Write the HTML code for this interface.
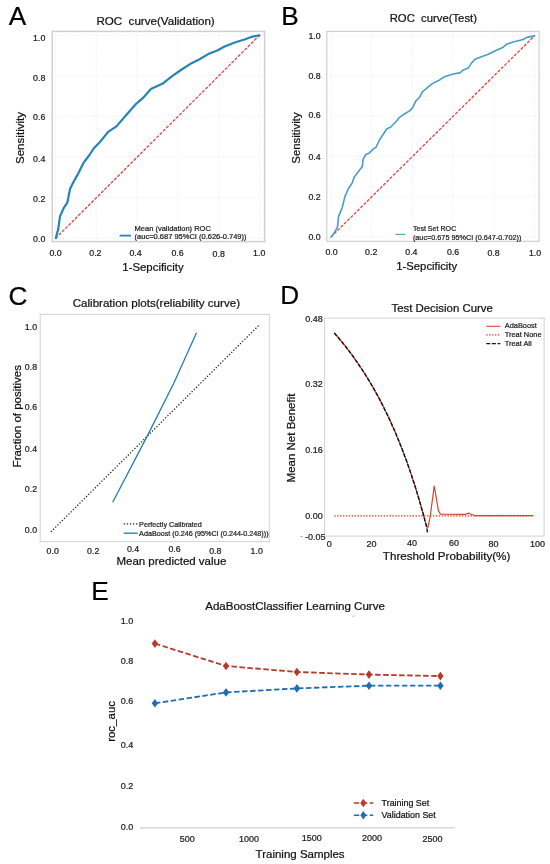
<!DOCTYPE html>
<html lang="en"><head><meta charset="utf-8"><title>Model evaluation figure</title>
<style>
html,body{margin:0;padding:0;background:#fff;}
body{width:550px;height:864px;overflow:hidden;}
svg{display:block;font-family:"Liberation Sans", Arial, Helvetica, sans-serif;}
</style></head><body>
<svg width="550" height="864" viewBox="0 0 550 864">
<rect width="550" height="864" fill="#ffffff"/>
<rect x="52.3" y="31.4" width="212.3" height="210.2" fill="#fff" stroke="#cfcfcf" stroke-width="1.5"/>
<line x1="55.5" y1="31.4" x2="55.5" y2="241.6" stroke="#f0f0f0" stroke-width="0.8" stroke-dasharray="2 1.2"/>
<line x1="52.3" y1="238.4" x2="264.6" y2="238.4" stroke="#f0f0f0" stroke-width="0.8" stroke-dasharray="2 1.2"/>
<line x1="96.3" y1="31.4" x2="96.3" y2="241.6" stroke="#f0f0f0" stroke-width="0.8" stroke-dasharray="2 1.2"/>
<line x1="52.3" y1="197.7" x2="264.6" y2="197.7" stroke="#f0f0f0" stroke-width="0.8" stroke-dasharray="2 1.2"/>
<line x1="137.2" y1="31.4" x2="137.2" y2="241.6" stroke="#f0f0f0" stroke-width="0.8" stroke-dasharray="2 1.2"/>
<line x1="52.3" y1="157.1" x2="264.6" y2="157.1" stroke="#f0f0f0" stroke-width="0.8" stroke-dasharray="2 1.2"/>
<line x1="178.0" y1="31.4" x2="178.0" y2="241.6" stroke="#f0f0f0" stroke-width="0.8" stroke-dasharray="2 1.2"/>
<line x1="52.3" y1="116.4" x2="264.6" y2="116.4" stroke="#f0f0f0" stroke-width="0.8" stroke-dasharray="2 1.2"/>
<line x1="218.9" y1="31.4" x2="218.9" y2="241.6" stroke="#f0f0f0" stroke-width="0.8" stroke-dasharray="2 1.2"/>
<line x1="52.3" y1="75.8" x2="264.6" y2="75.8" stroke="#f0f0f0" stroke-width="0.8" stroke-dasharray="2 1.2"/>
<line x1="259.7" y1="31.4" x2="259.7" y2="241.6" stroke="#f0f0f0" stroke-width="0.8" stroke-dasharray="2 1.2"/>
<line x1="52.3" y1="35.1" x2="264.6" y2="35.1" stroke="#f0f0f0" stroke-width="0.8" stroke-dasharray="2 1.2"/>
<line x1="55.5" y1="238.4" x2="259.7" y2="35.1" stroke="#d9473f" stroke-width="1.3" stroke-dasharray="3.1 1.5"/>
<path d="M55.8,238.2 L58.2,229.1 L60.0,216.4 L63.6,208.2 L67.3,202.7 L70.0,189.1 L73.6,181.8 L78.2,173.6 L83.6,162.7 L89.1,155.5 L93.6,148.6 L100.9,140.9 L108.2,131.8 L116.4,126.4 L128.2,112.7 L136.4,103.6 L143.6,97.3 L150.9,89.1 L162.7,83.6 L171.8,76.4 L180.9,70.0 L190.0,64.1 L199.1,59.5 L208.2,54.1 L217.3,50.5 L224.5,46.5 L235.5,42.3 L244.5,39.5 L251.8,36.8 L259.4,35.3" fill="none" stroke="#2585b5" stroke-width="2.2" stroke-linejoin="round" stroke-linecap="round"/>
<text x="8.8" y="25.4" font-size="26.2" text-anchor="start" fill="#000" stroke="#000" stroke-width="0.22" >A</text>
<text x="96.4" y="24.6" font-size="11.6" text-anchor="start" fill="#111" stroke="#111" stroke-width="0.22" xml:space="preserve">ROC  curve(Validation)</text>
<text x="45.3" y="41.0" font-size="8.8" text-anchor="end" fill="#1a1a1a" stroke="#1a1a1a" stroke-width="0.22" >1.0</text>
<text x="45.3" y="80.8" font-size="8.8" text-anchor="end" fill="#1a1a1a" stroke="#1a1a1a" stroke-width="0.22" >0.8</text>
<text x="45.3" y="120.3" font-size="8.8" text-anchor="end" fill="#1a1a1a" stroke="#1a1a1a" stroke-width="0.22" >0.6</text>
<text x="45.3" y="161.8" font-size="8.8" text-anchor="end" fill="#1a1a1a" stroke="#1a1a1a" stroke-width="0.22" >0.4</text>
<text x="45.3" y="202.2" font-size="8.8" text-anchor="end" fill="#1a1a1a" stroke="#1a1a1a" stroke-width="0.22" >0.2</text>
<text x="45.3" y="242.3" font-size="8.8" text-anchor="end" fill="#1a1a1a" stroke="#1a1a1a" stroke-width="0.22" >0.0</text>
<text x="55.5" y="256.3" font-size="8.8" text-anchor="middle" fill="#1a1a1a" stroke="#1a1a1a" stroke-width="0.22" >0.0</text>
<text x="95.4" y="256.3" font-size="8.8" text-anchor="middle" fill="#1a1a1a" stroke="#1a1a1a" stroke-width="0.22" >0.2</text>
<text x="135.5" y="255.7" font-size="8.8" text-anchor="middle" fill="#1a1a1a" stroke="#1a1a1a" stroke-width="0.22" >0.4</text>
<text x="177.6" y="256.0" font-size="8.8" text-anchor="middle" fill="#1a1a1a" stroke="#1a1a1a" stroke-width="0.22" >0.6</text>
<text x="218.7" y="256.9" font-size="8.8" text-anchor="middle" fill="#1a1a1a" stroke="#1a1a1a" stroke-width="0.22" >0.8</text>
<text x="259.2" y="256.3" font-size="8.8" text-anchor="middle" fill="#1a1a1a" stroke="#1a1a1a" stroke-width="0.22" >1.0</text>
<text x="153.0" y="270.5" font-size="11.4" text-anchor="middle" fill="#111" stroke="#111" stroke-width="0.22" >1-Sepcificity</text>
<text transform="translate(23.7,138.0) rotate(-90)" font-size="11.6" text-anchor="middle" fill="#111" stroke="#111" stroke-width="0.22">Sensitivity</text>
<line x1="119.6" y1="235.6" x2="131" y2="235.6" stroke="#2585b5" stroke-width="1.8"/>
<text x="134.6" y="230.5" font-size="7.5" text-anchor="start" fill="#222" stroke="#222" stroke-width="0.22" >Mean (validation) ROC</text>
<text x="134.6" y="239.2" font-size="7.5" text-anchor="start" fill="#222" stroke="#222" stroke-width="0.22" >(auc=0.687 95%CI (0.626-0.749))</text>
<rect x="326.8" y="31.4" width="212.3" height="209.9" fill="#fff" stroke="#cfcfcf" stroke-width="1.2"/>
<line x1="331.0" y1="31.4" x2="331.0" y2="241.3" stroke="#f0f0f0" stroke-width="0.8" stroke-dasharray="2 1.2"/>
<line x1="326.8" y1="237.0" x2="539.1" y2="237.0" stroke="#f0f0f0" stroke-width="0.8" stroke-dasharray="2 1.2"/>
<line x1="371.7" y1="31.4" x2="371.7" y2="241.3" stroke="#f0f0f0" stroke-width="0.8" stroke-dasharray="2 1.2"/>
<line x1="326.8" y1="196.7" x2="539.1" y2="196.7" stroke="#f0f0f0" stroke-width="0.8" stroke-dasharray="2 1.2"/>
<line x1="412.5" y1="31.4" x2="412.5" y2="241.3" stroke="#f0f0f0" stroke-width="0.8" stroke-dasharray="2 1.2"/>
<line x1="326.8" y1="156.4" x2="539.1" y2="156.4" stroke="#f0f0f0" stroke-width="0.8" stroke-dasharray="2 1.2"/>
<line x1="453.2" y1="31.4" x2="453.2" y2="241.3" stroke="#f0f0f0" stroke-width="0.8" stroke-dasharray="2 1.2"/>
<line x1="326.8" y1="116.2" x2="539.1" y2="116.2" stroke="#f0f0f0" stroke-width="0.8" stroke-dasharray="2 1.2"/>
<line x1="494.0" y1="31.4" x2="494.0" y2="241.3" stroke="#f0f0f0" stroke-width="0.8" stroke-dasharray="2 1.2"/>
<line x1="326.8" y1="75.9" x2="539.1" y2="75.9" stroke="#f0f0f0" stroke-width="0.8" stroke-dasharray="2 1.2"/>
<line x1="534.7" y1="31.4" x2="534.7" y2="241.3" stroke="#f0f0f0" stroke-width="0.8" stroke-dasharray="2 1.2"/>
<line x1="326.8" y1="35.6" x2="539.1" y2="35.6" stroke="#f0f0f0" stroke-width="0.8" stroke-dasharray="2 1.2"/>
<line x1="331" y1="237" x2="534.7" y2="35.6" stroke="#d9473f" stroke-width="1.3" stroke-dasharray="3.1 1.5"/>
<path d="M331.0,237.0 L333.2,234.5 L337.4,227.3 L338.6,216.4 L342.3,207.3 L345.0,196.4 L348.6,188.2 L352.3,182.7 L354.1,177.3 L362.3,166.4 L363.2,159.1 L365.9,154.5 L368.6,153.6 L373.2,149.1 L375.9,147.3 L379.5,140.0 L386.8,128.7 L390.5,127.3 L395.9,121.8 L399.5,117.3 L404.1,114.2 L409.5,110.9 L412.3,108.2 L415.9,100.9 L419.5,97.3 L422.3,91.8 L426.8,88.2 L432.3,83.6 L439.5,80.0 L445.0,76.4 L452.3,74.3 L460.5,72.6 L462.3,70.5 L468.6,67.7 L471.4,63.2 L475.0,59.2 L481.4,56.8 L487.7,54.5 L495.9,50.5 L503.2,47.2 L506.8,44.1 L514.1,41.7 L523.2,39.5 L526.8,37.4 L534.5,35.9" fill="none" stroke="#4a9cc4" stroke-width="1.6" stroke-linejoin="round" stroke-linecap="round"/>
<text x="281.2" y="25.4" font-size="26.2" text-anchor="start" fill="#000" stroke="#000" stroke-width="0.22" >B</text>
<text x="389.7" y="22.4" font-size="11.3" text-anchor="start" fill="#111" stroke="#111" stroke-width="0.22" xml:space="preserve">ROC  curve(Test)</text>
<text x="320.7" y="38.8" font-size="8.8" text-anchor="end" fill="#1a1a1a" stroke="#1a1a1a" stroke-width="0.22" >1.0</text>
<text x="320.7" y="78.9" font-size="8.8" text-anchor="end" fill="#1a1a1a" stroke="#1a1a1a" stroke-width="0.22" >0.8</text>
<text x="320.7" y="118.4" font-size="8.8" text-anchor="end" fill="#1a1a1a" stroke="#1a1a1a" stroke-width="0.22" >0.6</text>
<text x="320.7" y="159.9" font-size="8.8" text-anchor="end" fill="#1a1a1a" stroke="#1a1a1a" stroke-width="0.22" >0.4</text>
<text x="320.7" y="200.4" font-size="8.8" text-anchor="end" fill="#1a1a1a" stroke="#1a1a1a" stroke-width="0.22" >0.2</text>
<text x="320.7" y="240.3" font-size="8.8" text-anchor="end" fill="#1a1a1a" stroke="#1a1a1a" stroke-width="0.22" >0.0</text>
<text x="331.5" y="255.1" font-size="8.8" text-anchor="middle" fill="#1a1a1a" stroke="#1a1a1a" stroke-width="0.22" >0.0</text>
<text x="371.2" y="255.1" font-size="8.8" text-anchor="middle" fill="#1a1a1a" stroke="#1a1a1a" stroke-width="0.22" >0.2</text>
<text x="411.4" y="255.3" font-size="8.8" text-anchor="middle" fill="#1a1a1a" stroke="#1a1a1a" stroke-width="0.22" >0.4</text>
<text x="453.1" y="255.3" font-size="8.8" text-anchor="middle" fill="#1a1a1a" stroke="#1a1a1a" stroke-width="0.22" >0.6</text>
<text x="493.6" y="256.2" font-size="8.8" text-anchor="middle" fill="#1a1a1a" stroke="#1a1a1a" stroke-width="0.22" >0.8</text>
<text x="535.0" y="255.6" font-size="8.8" text-anchor="middle" fill="#1a1a1a" stroke="#1a1a1a" stroke-width="0.22" >1.0</text>
<text x="426.7" y="270.4" font-size="11.3" text-anchor="middle" fill="#111" stroke="#111" stroke-width="0.22" >1-Sepcificity</text>
<text transform="translate(299.9,138.0) rotate(-90)" font-size="11.45" text-anchor="middle" fill="#111" stroke="#111" stroke-width="0.22">Sensitivity</text>
<line x1="395.5" y1="234.4" x2="405.4" y2="234.4" stroke="#4a9cc4" stroke-width="1.1"/>
<text x="412.9" y="230.5" font-size="7.1" text-anchor="start" fill="#222" stroke="#222" stroke-width="0.22" >Test Set ROC</text>
<text x="412.9" y="239.5" font-size="7.28" text-anchor="start" fill="#222" stroke="#222" stroke-width="0.22" >(auc=0.675 95%CI (0.647-0.702))</text>
<rect x="40.2" y="314.4" width="229.1" height="227.2" fill="#fff" stroke="#d2d2d2" stroke-width="1"/>
<line x1="50.9" y1="531.9" x2="258.9" y2="325.3" stroke="#222" stroke-width="1.25" stroke-dasharray="1.3 1.8"/>
<path d="M112.7,502.2 L148.6,433.4 L174.1,382.5 L196.5,332.7" fill="none" stroke="#2178ae" stroke-width="1.25" stroke-linejoin="round"/>
<text x="8.6" y="304.6" font-size="26.2" text-anchor="start" fill="#000" stroke="#000" stroke-width="0.22" >C</text>
<text x="72.7" y="307.1" font-size="11.58" text-anchor="start" fill="#111" stroke="#111" stroke-width="0.22" >Calibration plots(reliability curve)</text>
<text x="37.1" y="330.2" font-size="8.8" text-anchor="end" fill="#1a1a1a" stroke="#1a1a1a" stroke-width="0.22" >1.0</text>
<text x="37.1" y="370.3" font-size="8.8" text-anchor="end" fill="#1a1a1a" stroke="#1a1a1a" stroke-width="0.22" >0.8</text>
<text x="37.1" y="410.3" font-size="8.8" text-anchor="end" fill="#1a1a1a" stroke="#1a1a1a" stroke-width="0.22" >0.6</text>
<text x="37.1" y="451.5" font-size="8.8" text-anchor="end" fill="#1a1a1a" stroke="#1a1a1a" stroke-width="0.22" >0.4</text>
<text x="37.1" y="492.2" font-size="8.8" text-anchor="end" fill="#1a1a1a" stroke="#1a1a1a" stroke-width="0.22" >0.2</text>
<text x="37.1" y="532.5" font-size="8.8" text-anchor="end" fill="#1a1a1a" stroke="#1a1a1a" stroke-width="0.22" >0.0</text>
<text x="52.7" y="553.9" font-size="8.8" text-anchor="middle" fill="#1a1a1a" stroke="#1a1a1a" stroke-width="0.22" >0.0</text>
<text x="93.2" y="553.9" font-size="8.8" text-anchor="middle" fill="#1a1a1a" stroke="#1a1a1a" stroke-width="0.22" >0.2</text>
<text x="133.0" y="552.4" font-size="8.8" text-anchor="middle" fill="#1a1a1a" stroke="#1a1a1a" stroke-width="0.22" >0.4</text>
<text x="174.6" y="552.4" font-size="8.8" text-anchor="middle" fill="#1a1a1a" stroke="#1a1a1a" stroke-width="0.22" >0.6</text>
<text x="215.3" y="553.9" font-size="8.8" text-anchor="middle" fill="#1a1a1a" stroke="#1a1a1a" stroke-width="0.22" >0.8</text>
<text x="256.7" y="553.9" font-size="8.8" text-anchor="middle" fill="#1a1a1a" stroke="#1a1a1a" stroke-width="0.22" >1.0</text>
<text x="171.4" y="564.6" font-size="11.5" text-anchor="middle" fill="#111" stroke="#111" stroke-width="0.22" >Mean predicted value</text>
<text transform="translate(20.6,416.2) rotate(-90)" font-size="11.53" text-anchor="middle" fill="#111" stroke="#111" stroke-width="0.22">Fraction of positives</text>
<line x1="123.7" y1="523.9" x2="137.7" y2="523.9" stroke="#222" stroke-width="1.25" stroke-dasharray="1.3 1.8"/>
<line x1="123.7" y1="533.2" x2="137.7" y2="533.2" stroke="#2178ae" stroke-width="1.3"/>
<text x="139.1" y="526.8" font-size="7.2" text-anchor="start" fill="#222" stroke="#222" stroke-width="0.22" >Perfectly Calibrated</text>
<text x="139.1" y="535.5" font-size="7.2" text-anchor="start" fill="#222" stroke="#222" stroke-width="0.22" >AdaBoost (0.246 (95%CI (0.244-0.248)))</text>
<rect x="324.6" y="318.1" width="219.5" height="218" fill="#fff" stroke="#d2d2d2" stroke-width="1"/>
<line x1="334.3" y1="515.9" x2="532.9" y2="515.9" stroke="#e5332b" stroke-width="1.4" stroke-dasharray="1.4 1.5"/>
<path d="M334.3,332.9 L335.8,334.7 L337.4,336.5 L338.9,338.3 L340.4,340.2 L342.0,342.0 L343.5,343.9 L345.1,345.9 L346.6,347.8 L348.1,349.8 L349.7,351.9 L351.2,353.9 L352.8,356.0 L354.3,358.2 L355.8,360.3 L357.4,362.5 L358.9,364.8 L360.4,367.1 L362.0,369.4 L363.5,371.8 L365.1,374.2 L366.6,376.6 L368.1,379.1 L369.7,381.7 L371.2,384.3 L372.7,386.9 L374.3,389.6 L375.8,392.4 L377.4,395.2 L378.9,398.0 L380.4,400.9 L382.0,403.9 L383.5,406.9 L385.0,410.0 L386.6,413.2 L388.1,416.4 L389.7,419.7 L391.2,423.1 L392.7,426.5 L394.3,430.0 L395.8,433.6 L397.3,437.3 L398.9,441.0 L400.4,444.9 L402.0,448.8 L403.5,452.8 L405.0,456.9 L406.6,461.1 L408.1,465.4 L409.6,469.8 L411.2,474.4 L412.7,479.0 L414.3,483.8 L415.8,488.6 L417.3,493.6 L418.9,498.8 L420.4,504.1 L421.9,509.5 L423.5,515.0 L425.0,520.8 L426.6,526.7 L427.9,527.6 L430.3,515.8 L434.2,486.0 L436.4,498.5 L438.4,510.7 L440.5,514.1 L466.0,514.3 L468.5,513.1 L470.5,514.0 L472.5,514.7 L475.5,515.7 L532.9,515.7" fill="none" stroke="#d8402f" stroke-width="1.2" stroke-linejoin="round"/>
<path d="M334.3,332.9 L335.8,334.7 L337.4,336.5 L338.9,338.3 L340.4,340.2 L342.0,342.0 L343.5,343.9 L345.1,345.9 L346.6,347.8 L348.1,349.8 L349.7,351.9 L351.2,353.9 L352.8,356.0 L354.3,358.2 L355.8,360.3 L357.4,362.5 L358.9,364.8 L360.4,367.1 L362.0,369.4 L363.5,371.8 L365.1,374.2 L366.6,376.6 L368.1,379.1 L369.7,381.7 L371.2,384.3 L372.7,386.9 L374.3,389.6 L375.8,392.4 L377.4,395.2 L378.9,398.0 L380.4,400.9 L382.0,403.9 L383.5,406.9 L385.0,410.0 L386.6,413.2 L388.1,416.4 L389.7,419.7 L391.2,423.1 L392.7,426.5 L394.3,430.0 L395.8,433.6 L397.3,437.3 L398.9,441.0 L400.4,444.9 L402.0,448.8 L403.5,452.8 L405.0,456.9 L406.6,461.1 L408.1,465.4 L409.6,469.8 L411.2,474.4 L412.7,479.0 L414.3,483.8 L415.8,488.6 L417.3,493.6 L418.9,498.8 L420.4,504.1 L421.9,509.5 L423.5,515.0 L425.0,520.8 L426.6,526.7 L427.5,532.5" fill="none" stroke="#111" stroke-width="1.4" stroke-dasharray="4 1.6"/>
<text x="280.2" y="304.0" font-size="26.2" text-anchor="start" fill="#000" stroke="#000" stroke-width="0.22" >D</text>
<text x="391.5" y="311.5" font-size="11.4" text-anchor="start" fill="#111" stroke="#111" stroke-width="0.22" >Test Decision Curve</text>
<text x="322.9" y="322.2" font-size="9.0" text-anchor="end" fill="#1a1a1a" stroke="#1a1a1a" stroke-width="0.22" >0.48</text>
<text x="322.9" y="387.4" font-size="9.0" text-anchor="end" fill="#1a1a1a" stroke="#1a1a1a" stroke-width="0.22" >0.32</text>
<text x="322.9" y="453.1" font-size="9.0" text-anchor="end" fill="#1a1a1a" stroke="#1a1a1a" stroke-width="0.22" >0.16</text>
<text x="322.9" y="519.4" font-size="9.0" text-anchor="end" fill="#1a1a1a" stroke="#1a1a1a" stroke-width="0.22" >0.00</text>
<text x="325.6" y="539.5" font-size="9.0" text-anchor="end" fill="#1a1a1a" stroke="#1a1a1a" stroke-width="0.22" >-0.05</text>
<text x="302.5" y="538.1" font-size="6" text-anchor="end" fill="#777" stroke="#777" stroke-width="0.22" >-</text>
<text x="329.2" y="547.4" font-size="9.0" text-anchor="middle" fill="#1a1a1a" stroke="#1a1a1a" stroke-width="0.22" >0</text>
<text x="371.5" y="547.4" font-size="9.0" text-anchor="middle" fill="#1a1a1a" stroke="#1a1a1a" stroke-width="0.22" >20</text>
<text x="412.0" y="545.8" font-size="9.0" text-anchor="middle" fill="#1a1a1a" stroke="#1a1a1a" stroke-width="0.22" >40</text>
<text x="453.9" y="545.8" font-size="9.0" text-anchor="middle" fill="#1a1a1a" stroke="#1a1a1a" stroke-width="0.22" >60</text>
<text x="493.6" y="547.4" font-size="9.0" text-anchor="middle" fill="#1a1a1a" stroke="#1a1a1a" stroke-width="0.22" >80</text>
<text x="537.6" y="547.4" font-size="9.0" text-anchor="middle" fill="#1a1a1a" stroke="#1a1a1a" stroke-width="0.22" >100</text>
<text x="446.6" y="560.1" font-size="11.65" text-anchor="middle" fill="#111" stroke="#111" stroke-width="0.22" >Threshold Probability(%)</text>
<text transform="translate(295.2,438.0) rotate(-90)" font-size="11.5" text-anchor="middle" fill="#111" stroke="#111" stroke-width="0.22">Mean Net Benefit</text>
<line x1="486.3" y1="326.3" x2="500.3" y2="326.3" stroke="#d8402f" stroke-width="1.1"/>
<line x1="486.3" y1="334.9" x2="500.3" y2="334.9" stroke="#e5332b" stroke-width="1.4" stroke-dasharray="1.4 1.5"/>
<line x1="486.3" y1="343.6" x2="500.3" y2="343.6" stroke="#111" stroke-width="1.4" stroke-dasharray="4 1.6"/>
<text x="504.7" y="328.1" font-size="7.43" text-anchor="start" fill="#222" stroke="#222" stroke-width="0.22" >AdaBoost</text>
<text x="504.7" y="336.8" font-size="7.43" text-anchor="start" fill="#222" stroke="#222" stroke-width="0.22" >Treat None</text>
<text x="504.7" y="345.8" font-size="7.43" text-anchor="start" fill="#222" stroke="#222" stroke-width="0.22" >Treat All</text>
<line x1="140" y1="827.8" x2="455" y2="827.8" stroke="#d0d0d0" stroke-width="1.3"/>
<path d="M154.9,643.6 L226.0,666.0 L296.9,672.0 L369.0,674.6 L440.4,676.1" fill="none" stroke="#b53a2b" stroke-width="1.8" stroke-dasharray="5.5 2.5"/>
<path d="M154.9,639.3 L158.1,643.6 L154.9,647.9 L151.7,643.6 Z" fill="#b53a2b"/>
<path d="M226.0,661.7 L229.2,666.0 L226.0,670.3 L222.8,666.0 Z" fill="#b53a2b"/>
<path d="M296.9,667.7 L300.1,672.0 L296.9,676.3 L293.7,672.0 Z" fill="#b53a2b"/>
<path d="M369.0,670.3 L372.2,674.6 L369.0,678.9 L365.8,674.6 Z" fill="#b53a2b"/>
<path d="M440.4,671.8 L443.6,676.1 L440.4,680.4 L437.2,676.1 Z" fill="#b53a2b"/>
<path d="M154.9,703.3 L226.0,692.4 L296.9,688.4 L369.0,685.7 L440.4,685.7" fill="none" stroke="#1f6db1" stroke-width="1.8" stroke-dasharray="5.5 2.5"/>
<path d="M154.9,699.0 L158.1,703.3 L154.9,707.6 L151.7,703.3 Z" fill="#1f6db1"/>
<path d="M226.0,688.1 L229.2,692.4 L226.0,696.7 L222.8,692.4 Z" fill="#1f6db1"/>
<path d="M296.9,684.1 L300.1,688.4 L296.9,692.7 L293.7,688.4 Z" fill="#1f6db1"/>
<path d="M369.0,681.4 L372.2,685.7 L369.0,690.0 L365.8,685.7 Z" fill="#1f6db1"/>
<path d="M440.4,681.4 L443.6,685.7 L440.4,690.0 L437.2,685.7 Z" fill="#1f6db1"/>
<text x="91.2" y="599.8" font-size="26.2" text-anchor="start" fill="#000" stroke="#000" stroke-width="0.22" >E</text>
<text x="205.2" y="610.0" font-size="11.56" text-anchor="start" fill="#111" stroke="#111" stroke-width="0.22" >AdaBoostClassifier Learning Curve</text>
<line x1="351.8" y1="616.2" x2="355" y2="616.2" stroke="#bbb" stroke-width="0.8"/>
<text x="133.2" y="624.0" font-size="9.0" text-anchor="end" fill="#1a1a1a" stroke="#1a1a1a" stroke-width="0.22" >1.0</text>
<text x="133.2" y="664.1" font-size="9.0" text-anchor="end" fill="#1a1a1a" stroke="#1a1a1a" stroke-width="0.22" >0.8</text>
<text x="133.2" y="704.1" font-size="9.0" text-anchor="end" fill="#1a1a1a" stroke="#1a1a1a" stroke-width="0.22" >0.6</text>
<text x="133.2" y="747.7" font-size="9.0" text-anchor="end" fill="#1a1a1a" stroke="#1a1a1a" stroke-width="0.22" >0.4</text>
<text x="133.2" y="789.0" font-size="9.0" text-anchor="end" fill="#1a1a1a" stroke="#1a1a1a" stroke-width="0.22" >0.2</text>
<text x="133.2" y="829.8" font-size="9.0" text-anchor="end" fill="#1a1a1a" stroke="#1a1a1a" stroke-width="0.22" >0.0</text>
<text x="187.3" y="842.1" font-size="9.0" text-anchor="middle" fill="#1a1a1a" stroke="#1a1a1a" stroke-width="0.22" >500</text>
<text x="249.1" y="842.1" font-size="9.0" text-anchor="middle" fill="#1a1a1a" stroke="#1a1a1a" stroke-width="0.22" >1000</text>
<text x="311.8" y="840.9" font-size="9.0" text-anchor="middle" fill="#1a1a1a" stroke="#1a1a1a" stroke-width="0.22" >1500</text>
<text x="372.1" y="840.9" font-size="9.0" text-anchor="middle" fill="#1a1a1a" stroke="#1a1a1a" stroke-width="0.22" >2000</text>
<text x="432.4" y="842.1" font-size="9.0" text-anchor="middle" fill="#1a1a1a" stroke="#1a1a1a" stroke-width="0.22" >2500</text>
<text x="300.1" y="858.0" font-size="11.5" text-anchor="middle" fill="#111" stroke="#111" stroke-width="0.22" >Training Samples</text>
<text transform="translate(114.6,721.4) rotate(-90)" font-size="11.5" text-anchor="middle" fill="#111" stroke="#111" stroke-width="0.22">roc_auc</text>
<line x1="353.8" y1="803" x2="373.2" y2="803" stroke="#b53a2b" stroke-width="1.6" stroke-dasharray="5.5 2.5"/>
<path d="M363.3,798.8 L366.3,803.0 L363.3,807.2 L360.3,803.0 Z" fill="#b53a2b"/>
<text x="381.6" y="806.2" font-size="8.9" text-anchor="start" fill="#111" stroke="#111" stroke-width="0.22" >Training Set</text>
<line x1="353.8" y1="815.2" x2="373.2" y2="815.2" stroke="#1f6db1" stroke-width="1.6" stroke-dasharray="5.5 2.5"/>
<path d="M363.3,811.0 L366.3,815.2 L363.3,819.4 L360.3,815.2 Z" fill="#1f6db1"/>
<text x="381.6" y="818.4" font-size="8.9" text-anchor="start" fill="#111" stroke="#111" stroke-width="0.22" >Validation Set</text>
</svg>
</body></html>
